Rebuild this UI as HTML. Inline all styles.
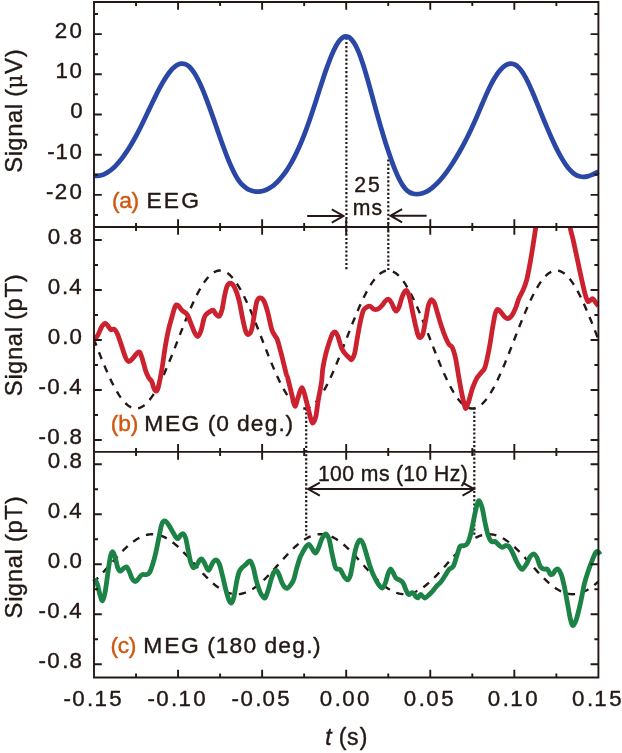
<!DOCTYPE html>
<html lang="en">
<head>
<meta charset="utf-8">
<title>EEG and MEG signals</title>
<style>
html,body{margin:0;padding:0;background:#fff;}
body{width:622px;height:753px;overflow:hidden;}
svg{display:block;}
</style>
</head>
<body>
<svg width="622" height="753" viewBox="0 0 622 753">
<defs>
<clipPath id="cb"><rect x="94" y="227" width="504.4" height="224.9"/></clipPath>
</defs>
<rect width="622" height="753" fill="#fff"/>
<path d="M94 339.5L95.05 342.21L96.1 344.91L97.15 347.61L98.2 350.29L99.25 352.96L100.31 355.61L101.36 358.23L102.41 360.82L103.46 363.38L104.51 365.91L105.56 368.39L106.61 370.83L107.66 373.21L108.71 375.55L109.76 377.83L110.81 380.06L111.86 382.22L112.92 384.31L113.97 386.34L115.02 388.29L116.07 390.17L117.12 391.97L118.17 393.69L119.22 395.32L120.27 396.87L121.32 398.33L122.37 399.7L123.42 400.98L124.47 402.16L125.52 403.25L126.58 404.24L127.63 405.12L128.68 405.91L129.73 406.59L130.78 407.17L131.83 407.65L132.88 408.02L133.93 408.29L134.98 408.45L136.03 408.5L137.08 408.45L138.13 408.29L139.19 408.02L140.24 407.65L141.29 407.17L142.34 406.59L143.39 405.91L144.44 405.12L145.49 404.24L146.54 403.25L147.59 402.16L148.64 400.98L149.69 399.7L150.75 398.33L151.8 396.87L152.85 395.32L153.9 393.69L154.95 391.97L156 390.17L157.05 388.29L158.1 386.34L159.15 384.31L160.2 382.22L161.25 380.06L162.3 377.83L163.36 375.55L164.41 373.21L165.46 370.83L166.51 368.39L167.56 365.91L168.61 363.38L169.66 360.82L170.71 358.23L171.76 355.61L172.81 352.96L173.86 350.29L174.91 347.61L175.97 344.91L177.02 342.21L178.07 339.5L179.12 336.79L180.17 334.09L181.22 331.39L182.27 328.71L183.32 326.04L184.37 323.39L185.42 320.77L186.47 318.18L187.52 315.62L188.57 313.09L189.63 310.61L190.68 308.17L191.73 305.79L192.78 303.45L193.83 301.17L194.88 298.94L195.93 296.78L196.98 294.69L198.03 292.66L199.08 290.71L200.13 288.83L201.19 287.03L202.24 285.31L203.29 283.68L204.34 282.13L205.39 280.67L206.44 279.3L207.49 278.02L208.54 276.84L209.59 275.75L210.64 274.76L211.69 273.88L212.74 273.09L213.8 272.41L214.85 271.83L215.9 271.35L216.95 270.98L218 270.71L219.05 270.55L220.1 270.5L221.15 270.55L222.2 270.71L223.25 270.98L224.3 271.35L225.35 271.83L226.41 272.41L227.46 273.09L228.51 273.88L229.56 274.76L230.61 275.75L231.66 276.84L232.71 278.02L233.76 279.3L234.81 280.67L235.86 282.13L236.91 283.68L237.96 285.31L239.02 287.03L240.07 288.83L241.12 290.71L242.17 292.66L243.22 294.69L244.27 296.78L245.32 298.94L246.37 301.17L247.42 303.45L248.47 305.79L249.52 308.17L250.57 310.61L251.62 313.09L252.68 315.62L253.73 318.18L254.78 320.77L255.83 323.39L256.88 326.04L257.93 328.71L258.98 331.39L260.03 334.09L261.08 336.79L262.13 339.5L263.18 342.21L264.24 344.91L265.29 347.61L266.34 350.29L267.39 352.96L268.44 355.61L269.49 358.23L270.54 360.82L271.59 363.38L272.64 365.91L273.69 368.39L274.74 370.83L275.79 373.21L276.85 375.55L277.9 377.83L278.95 380.06L280 382.22L281.05 384.31L282.1 386.34L283.15 388.29L284.2 390.17L285.25 391.97L286.3 393.69L287.35 395.32L288.4 396.87L289.46 398.33L290.51 399.7L291.56 400.98L292.61 402.16L293.66 403.25L294.71 404.24L295.76 405.12L296.81 405.91L297.86 406.59L298.91 407.17L299.96 407.65L301.01 408.02L302.06 408.29L303.12 408.45L304.17 408.5L305.22 408.45L306.27 408.29L307.32 408.02L308.37 407.65L309.42 407.17L310.47 406.59L311.52 405.91L312.57 405.12L313.62 404.24L314.68 403.25L315.73 402.16L316.78 400.98L317.83 399.7L318.88 398.33L319.93 396.87L320.98 395.32L322.03 393.69L323.08 391.97L324.13 390.17L325.18 388.29L326.23 386.34L327.28 384.31L328.34 382.22L329.39 380.06L330.44 377.83L331.49 375.55L332.54 373.21L333.59 370.83L334.64 368.39L335.69 365.91L336.74 363.38L337.79 360.82L338.84 358.23L339.89 355.61L340.95 352.96L342 350.29L343.05 347.61L344.1 344.91L345.15 342.21L346.2 339.5L347.25 336.79L348.3 334.09L349.35 331.39L350.4 328.71L351.45 326.04L352.5 323.39L353.56 320.77L354.61 318.18L355.66 315.62L356.71 313.09L357.76 310.61L358.81 308.17L359.86 305.79L360.91 303.45L361.96 301.17L363.01 298.94L364.06 296.78L365.12 294.69L366.17 292.66L367.22 290.71L368.27 288.83L369.32 287.03L370.37 285.31L371.42 283.68L372.47 282.13L373.52 280.67L374.57 279.3L375.62 278.02L376.67 276.84L377.73 275.75L378.78 274.76L379.83 273.88L380.88 273.09L381.93 272.41L382.98 271.83L384.03 271.35L385.08 270.98L386.13 270.71L387.18 270.55L388.23 270.5L389.28 270.55L390.33 270.71L391.39 270.98L392.44 271.35L393.49 271.83L394.54 272.41L395.59 273.09L396.64 273.88L397.69 274.76L398.74 275.75L399.79 276.84L400.84 278.02L401.89 279.3L402.94 280.67L404 282.13L405.05 283.68L406.1 285.31L407.15 287.03L408.2 288.83L409.25 290.71L410.3 292.66L411.35 294.69L412.4 296.78L413.45 298.94L414.5 301.17L415.56 303.45L416.61 305.79L417.66 308.17L418.71 310.61L419.76 313.09L420.81 315.62L421.86 318.18L422.91 320.77L423.96 323.39L425.01 326.04L426.06 328.71L427.11 331.39L428.17 334.09L429.22 336.79L430.27 339.5L431.32 342.21L432.37 344.91L433.42 347.61L434.47 350.29L435.52 352.96L436.57 355.61L437.62 358.23L438.67 360.82L439.72 363.38L440.78 365.91L441.83 368.39L442.88 370.83L443.93 373.21L444.98 375.55L446.03 377.83L447.08 380.06L448.13 382.22L449.18 384.31L450.23 386.34L451.28 388.29L452.33 390.17L453.38 391.97L454.44 393.69L455.49 395.32L456.54 396.87L457.59 398.33L458.64 399.7L459.69 400.98L460.74 402.16L461.79 403.25L462.84 404.24L463.89 405.12L464.94 405.91L466 406.59L467.05 407.17L468.1 407.65L469.15 408.02L470.2 408.29L471.25 408.45L472.3 408.5L473.35 408.45L474.4 408.29L475.45 408.02L476.5 407.65L477.55 407.17L478.61 406.59L479.66 405.91L480.71 405.12L481.76 404.24L482.81 403.25L483.86 402.16L484.91 400.98L485.96 399.7L487.01 398.33L488.06 396.87L489.11 395.32L490.16 393.69L491.22 391.97L492.27 390.17L493.32 388.29L494.37 386.34L495.42 384.31L496.47 382.22L497.52 380.06L498.57 377.83L499.62 375.55L500.67 373.21L501.72 370.83L502.77 368.39L503.82 365.91L504.88 363.38L505.93 360.82L506.98 358.23L508.03 355.61L509.08 352.96L510.13 350.29L511.18 347.61L512.23 344.91L513.28 342.21L514.33 339.5L515.38 336.79L516.43 334.09L517.49 331.39L518.54 328.71L519.59 326.04L520.64 323.39L521.69 320.77L522.74 318.18L523.79 315.62L524.84 313.09L525.89 310.61L526.94 308.17L527.99 305.79L529.04 303.45L530.1 301.17L531.15 298.94L532.2 296.78L533.25 294.69L534.3 292.66L535.35 290.71L536.4 288.83L537.45 287.03L538.5 285.31L539.55 283.68L540.6 282.13L541.65 280.67L542.71 279.3L543.76 278.02L544.81 276.84L545.86 275.75L546.91 274.76L547.96 273.88L549.01 273.09L550.06 272.41L551.11 271.83L552.16 271.35L553.21 270.98L554.26 270.71L555.32 270.55L556.37 270.5L557.42 270.55L558.47 270.71L559.52 270.98L560.57 271.35L561.62 271.83L562.67 272.41L563.72 273.09L564.77 273.88L565.82 274.76L566.88 275.75L567.93 276.84L568.98 278.02L570.03 279.3L571.08 280.67L572.13 282.13L573.18 283.68L574.23 285.31L575.28 287.03L576.33 288.83L577.38 290.71L578.43 292.66L579.49 294.69L580.54 296.78L581.59 298.94L582.64 301.17L583.69 303.45L584.74 305.79L585.79 308.17L586.84 310.61L587.89 313.09L588.94 315.62L589.99 318.18L591.04 320.77L592.1 323.39L593.15 326.04L594.2 328.71L595.25 331.39L596.3 334.09L597.35 336.79L598.4 339.5" fill="none" stroke="#231815" stroke-width="2.4" stroke-dasharray="7.3 7.1" stroke-dashoffset="0.75"/>
<path d="M94 581.53L95.05 580.55L96.1 579.55L97.15 578.53L98.2 577.48L99.25 576.42L100.31 575.33L101.36 574.23L102.41 573.11L103.46 571.98L104.51 570.84L105.56 569.68L106.61 568.52L107.66 567.35L108.71 566.18L109.76 565L110.81 563.82L111.86 562.65L112.92 561.47L113.97 560.3L115.02 559.13L116.07 557.98L117.12 556.83L118.17 555.69L119.22 554.57L120.27 553.46L121.32 552.37L122.37 551.3L123.42 550.25L124.47 549.21L125.52 548.2L126.58 547.22L127.63 546.26L128.68 545.33L129.73 544.43L130.78 543.56L131.83 542.72L132.88 541.92L133.93 541.14L134.98 540.41L136.03 539.71L137.08 539.05L138.13 538.43L139.19 537.84L140.24 537.3L141.29 536.8L142.34 536.34L143.39 535.93L144.44 535.55L145.49 535.23L146.54 534.94L147.59 534.71L148.64 534.51L149.69 534.37L150.75 534.27L151.8 534.21L152.85 534.2L153.9 534.24L154.95 534.32L156 534.45L157.05 534.63L158.1 534.85L159.15 535.12L160.2 535.43L161.25 535.79L162.3 536.19L163.36 536.63L164.41 537.12L165.46 537.64L166.51 538.21L167.56 538.82L168.61 539.47L169.66 540.15L170.71 540.88L171.76 541.63L172.81 542.43L173.86 543.26L174.91 544.11L175.97 545L177.02 545.92L178.07 546.87L179.12 547.85L180.17 548.85L181.22 549.87L182.27 550.92L183.32 551.98L184.37 553.07L185.42 554.17L186.47 555.29L187.52 556.42L188.57 557.56L189.63 558.72L190.68 559.88L191.73 561.05L192.78 562.22L193.83 563.4L194.88 564.58L195.93 565.75L196.98 566.93L198.03 568.1L199.08 569.27L200.13 570.42L201.19 571.57L202.24 572.71L203.29 573.83L204.34 574.94L205.39 576.03L206.44 577.1L207.49 578.15L208.54 579.19L209.59 580.2L210.64 581.18L211.69 582.14L212.74 583.07L213.8 583.97L214.85 584.84L215.9 585.68L216.95 586.48L218 587.26L219.05 587.99L220.1 588.69L221.15 589.35L222.2 589.97L223.25 590.56L224.3 591.1L225.35 591.6L226.41 592.06L227.46 592.47L228.51 592.85L229.56 593.17L230.61 593.46L231.66 593.69L232.71 593.89L233.76 594.03L234.81 594.13L235.86 594.19L236.91 594.2L237.96 594.16L239.02 594.08L240.07 593.95L241.12 593.77L242.17 593.55L243.22 593.28L244.27 592.97L245.32 592.61L246.37 592.21L247.42 591.77L248.47 591.28L249.52 590.76L250.57 590.19L251.62 589.58L252.68 588.93L253.73 588.25L254.78 587.52L255.83 586.77L256.88 585.97L257.93 585.14L258.98 584.29L260.03 583.4L261.08 582.48L262.13 581.53L263.18 580.55L264.24 579.55L265.29 578.53L266.34 577.48L267.39 576.42L268.44 575.33L269.49 574.23L270.54 573.11L271.59 571.98L272.64 570.84L273.69 569.68L274.74 568.52L275.79 567.35L276.85 566.18L277.9 565L278.95 563.82L280 562.65L281.05 561.47L282.1 560.3L283.15 559.13L284.2 557.98L285.25 556.83L286.3 555.69L287.35 554.57L288.4 553.46L289.46 552.37L290.51 551.3L291.56 550.25L292.61 549.21L293.66 548.2L294.71 547.22L295.76 546.26L296.81 545.33L297.86 544.43L298.91 543.56L299.96 542.72L301.01 541.92L302.06 541.14L303.12 540.41L304.17 539.71L305.22 539.05L306.27 538.43L307.32 537.84L308.37 537.3L309.42 536.8L310.47 536.34L311.52 535.93L312.57 535.55L313.62 535.23L314.68 534.94L315.73 534.71L316.78 534.51L317.83 534.37L318.88 534.27L319.93 534.21L320.98 534.2L322.03 534.24L323.08 534.32L324.13 534.45L325.18 534.63L326.23 534.85L327.28 535.12L328.34 535.43L329.39 535.79L330.44 536.19L331.49 536.63L332.54 537.12L333.59 537.64L334.64 538.21L335.69 538.82L336.74 539.47L337.79 540.15L338.84 540.88L339.89 541.63L340.95 542.43L342 543.26L343.05 544.11L344.1 545L345.15 545.92L346.2 546.87L347.25 547.85L348.3 548.85L349.35 549.87L350.4 550.92L351.45 551.98L352.5 553.07L353.56 554.17L354.61 555.29L355.66 556.42L356.71 557.56L357.76 558.72L358.81 559.88L359.86 561.05L360.91 562.22L361.96 563.4L363.01 564.58L364.06 565.75L365.12 566.93L366.17 568.1L367.22 569.27L368.27 570.42L369.32 571.57L370.37 572.71L371.42 573.83L372.47 574.94L373.52 576.03L374.57 577.1L375.62 578.15L376.67 579.19L377.73 580.2L378.78 581.18L379.83 582.14L380.88 583.07L381.93 583.97L382.98 584.84L384.03 585.68L385.08 586.48L386.13 587.26L387.18 587.99L388.23 588.69L389.28 589.35L390.33 589.97L391.39 590.56L392.44 591.1L393.49 591.6L394.54 592.06L395.59 592.47L396.64 592.85L397.69 593.17L398.74 593.46L399.79 593.69L400.84 593.89L401.89 594.03L402.94 594.13L404 594.19L405.05 594.2L406.1 594.16L407.15 594.08L408.2 593.95L409.25 593.77L410.3 593.55L411.35 593.28L412.4 592.97L413.45 592.61L414.5 592.21L415.56 591.77L416.61 591.28L417.66 590.76L418.71 590.19L419.76 589.58L420.81 588.93L421.86 588.25L422.91 587.52L423.96 586.77L425.01 585.97L426.06 585.14L427.11 584.29L428.17 583.4L429.22 582.48L430.27 581.53L431.32 580.55L432.37 579.55L433.42 578.53L434.47 577.48L435.52 576.42L436.57 575.33L437.62 574.23L438.67 573.11L439.72 571.98L440.78 570.84L441.83 569.68L442.88 568.52L443.93 567.35L444.98 566.18L446.03 565L447.08 563.82L448.13 562.65L449.18 561.47L450.23 560.3L451.28 559.13L452.33 557.98L453.38 556.83L454.44 555.69L455.49 554.57L456.54 553.46L457.59 552.37L458.64 551.3L459.69 550.25L460.74 549.21L461.79 548.2L462.84 547.22L463.89 546.26L464.94 545.33L466 544.43L467.05 543.56L468.1 542.72L469.15 541.92L470.2 541.14L471.25 540.41L472.3 539.71L473.35 539.05L474.4 538.43L475.45 537.84L476.5 537.3L477.55 536.8L478.61 536.34L479.66 535.93L480.71 535.55L481.76 535.23L482.81 534.94L483.86 534.71L484.91 534.51L485.96 534.37L487.01 534.27L488.06 534.21L489.11 534.2L490.16 534.24L491.22 534.32L492.27 534.45L493.32 534.63L494.37 534.85L495.42 535.12L496.47 535.43L497.52 535.79L498.57 536.19L499.62 536.63L500.67 537.12L501.72 537.64L502.77 538.21L503.82 538.82L504.88 539.47L505.93 540.15L506.98 540.88L508.03 541.63L509.08 542.43L510.13 543.26L511.18 544.11L512.23 545L513.28 545.92L514.33 546.87L515.38 547.85L516.43 548.85L517.49 549.87L518.54 550.92L519.59 551.98L520.64 553.07L521.69 554.17L522.74 555.29L523.79 556.42L524.84 557.56L525.89 558.72L526.94 559.88L527.99 561.05L529.04 562.22L530.1 563.4L531.15 564.58L532.2 565.75L533.25 566.93L534.3 568.1L535.35 569.27L536.4 570.42L537.45 571.57L538.5 572.71L539.55 573.83L540.6 574.94L541.65 576.03L542.71 577.1L543.76 578.15L544.81 579.19L545.86 580.2L546.91 581.18L547.96 582.14L549.01 583.07L550.06 583.97L551.11 584.84L552.16 585.68L553.21 586.48L554.26 587.26L555.32 587.99L556.37 588.69L557.42 589.35L558.47 589.97L559.52 590.56L560.57 591.1L561.62 591.6L562.67 592.06L563.72 592.47L564.77 592.85L565.82 593.17L566.88 593.46L567.93 593.69L568.98 593.89L570.03 594.03L571.08 594.13L572.13 594.19L573.18 594.2L574.23 594.16L575.28 594.08L576.33 593.95L577.38 593.77L578.43 593.55L579.49 593.28L580.54 592.97L581.59 592.61L582.64 592.21L583.69 591.77L584.74 591.28L585.79 590.76L586.84 590.19L587.89 589.58L588.94 588.93L589.99 588.25L591.04 587.52L592.1 586.77L593.15 585.97L594.2 585.14L595.25 584.29L596.3 583.4L597.35 582.48L598.4 581.53" fill="none" stroke="#231815" stroke-width="2.4" stroke-dasharray="7.3 7.1" stroke-dashoffset="1.62"/>
<path d="M346.4 269.2V38" fill="none" stroke="#231815" stroke-width="2.2" stroke-dasharray="2.1 2.07"/>
<path d="M388.3 270V159" fill="none" stroke="#231815" stroke-width="2.2" stroke-dasharray="2.1 2.07"/>
<path d="M306.2 535.5V408.4" fill="none" stroke="#231815" stroke-width="2.2" stroke-dasharray="2.1 2.07"/>
<path d="M474.3 534.7V409" fill="none" stroke="#231815" stroke-width="2.2" stroke-dasharray="2.1 2.07"/>
<path d="M94 175.73C94.6 175.76 96.42 175.96 97.63 175.88C98.84 175.8 100.05 175.58 101.26 175.24C102.47 174.91 103.68 174.44 104.89 173.86C106.1 173.29 107.31 172.58 108.52 171.77C109.72 170.96 110.93 170.03 112.14 168.99C113.35 167.96 114.56 166.81 115.77 165.56C116.98 164.32 118.19 162.96 119.4 161.51C120.61 160.07 121.82 158.52 123.03 156.88C124.24 155.24 125.45 153.5 126.66 151.68C127.87 149.87 129.08 147.95 130.29 145.97C131.5 143.98 132.71 141.9 133.92 139.76C135.13 137.61 136.34 135.38 137.55 133.08C138.75 130.79 139.96 128.41 141.17 125.98C142.38 123.56 143.59 121.05 144.8 118.53C146.01 116.02 147.22 113.45 148.43 110.9C149.64 108.36 150.85 105.79 152.06 103.27C153.27 100.76 154.48 98.24 155.69 95.82C156.9 93.39 158.11 91 159.32 88.72C160.53 86.45 161.74 84.23 162.95 82.16C164.16 80.09 165.37 78.11 166.58 76.31C167.79 74.51 168.99 72.83 170.2 71.36C171.41 69.89 172.62 68.56 173.83 67.48C175.04 66.39 176.25 65.48 177.46 64.84C178.67 64.2 179.88 63.76 181.09 63.61C182.3 63.46 183.51 63.54 184.72 63.92C185.93 64.3 187.14 64.94 188.35 65.89C189.56 66.85 190.77 68.12 191.98 69.66C193.19 71.2 194.4 73.06 195.61 75.13C196.82 77.19 198.02 79.54 199.23 82.06C200.44 84.57 201.65 87.32 202.86 90.19C204.07 93.07 205.28 96.14 206.49 99.3C207.7 102.45 208.91 105.77 210.12 109.12C211.33 112.47 212.54 115.94 213.75 119.4C214.96 122.85 216.17 126.39 217.38 129.86C218.59 133.33 219.8 136.83 221.01 140.23C222.22 143.63 223.43 147.01 224.64 150.24C225.85 153.46 227.06 156.63 228.26 159.6C229.47 162.57 230.68 165.43 231.89 168.05C233.1 170.67 234.31 173.13 235.52 175.3C236.73 177.48 237.94 179.43 239.15 181.1C240.36 182.76 241.57 184.11 242.78 185.29C243.99 186.47 245.2 187.37 246.41 188.18C247.62 188.98 248.83 189.6 250.04 190.11C251.25 190.62 252.46 190.99 253.67 191.25C254.88 191.5 256.09 191.62 257.29 191.65C258.5 191.67 259.71 191.57 260.92 191.37C262.13 191.17 263.34 190.86 264.55 190.44C265.76 190.02 266.97 189.49 268.18 188.85C269.39 188.21 270.6 187.46 271.81 186.6C273.02 185.74 274.23 184.77 275.44 183.68C276.65 182.6 277.86 181.41 279.07 180.1C280.28 178.79 281.49 177.38 282.7 175.84C283.91 174.3 285.12 172.64 286.33 170.86C287.53 169.08 288.74 167.18 289.95 165.14C291.16 163.1 292.37 160.94 293.58 158.64C294.79 156.34 296 153.91 297.21 151.33C298.42 148.76 299.63 146.04 300.84 143.18C302.05 140.32 303.26 137.31 304.47 134.16C305.68 131.01 306.89 127.69 308.1 124.28C309.31 120.87 310.52 117.32 311.73 113.72C312.94 110.11 314.15 106.39 315.36 102.67C316.56 98.94 317.77 95.12 318.98 91.36C320.19 87.61 321.4 83.8 322.61 80.14C323.82 76.48 325.03 72.83 326.24 69.4C327.45 65.96 328.66 62.6 329.87 59.52C331.08 56.44 332.29 53.51 333.5 50.92C334.71 48.32 335.92 45.94 337.13 43.97C338.34 41.99 339.55 40.3 340.76 39.07C341.97 37.85 343.18 37 344.39 36.62C345.6 36.24 346.8 36.31 348.01 36.8C349.22 37.29 350.43 38.23 351.64 39.58C352.85 40.93 354.06 42.71 355.27 44.89C356.48 47.08 357.69 49.72 358.9 52.7C360.11 55.68 361.32 59.12 362.53 62.76C363.74 66.39 364.95 70.41 366.16 74.5C367.37 78.6 368.58 82.97 369.79 87.33C371 91.69 372.21 96.23 373.42 100.65C374.63 105.07 375.84 109.54 377.04 113.86C378.25 118.19 379.46 122.45 380.67 126.6C381.88 130.74 383.09 134.8 384.3 138.72C385.51 142.63 386.72 146.45 387.93 150.11C389.14 153.76 390.35 157.3 391.56 160.64C392.77 163.98 393.98 167.19 395.19 170.14C396.4 173.08 397.61 175.85 398.82 178.31C400.03 180.77 401.24 183 402.45 184.88C403.66 186.75 404.87 188.31 406.07 189.56C407.28 190.81 408.49 191.68 409.7 192.39C410.91 193.09 412.12 193.48 413.33 193.78C414.54 194.07 415.75 194.16 416.96 194.16C418.17 194.16 419.38 194.02 420.59 193.77C421.8 193.51 423.01 193.13 424.22 192.64C425.43 192.15 426.64 191.54 427.85 190.83C429.06 190.11 430.27 189.28 431.48 188.36C432.69 187.44 433.9 186.41 435.11 185.29C436.31 184.17 437.52 182.95 438.73 181.65C439.94 180.35 441.15 178.95 442.36 177.48C443.57 176.01 444.78 174.45 445.99 172.83C447.2 171.2 448.41 169.5 449.62 167.73C450.83 165.97 452.04 164.13 453.25 162.23C454.46 160.33 455.67 158.36 456.88 156.32C458.09 154.29 459.3 152.19 460.51 150.02C461.72 147.85 462.93 145.62 464.14 143.31C465.34 141.01 466.55 138.64 467.76 136.2C468.97 133.76 470.18 131.25 471.39 128.67C472.6 126.1 473.81 123.45 475.02 120.74C476.23 118.02 477.44 115.21 478.65 112.39C479.86 109.57 481.07 106.64 482.28 103.8C483.49 100.96 484.7 98.08 485.91 95.36C487.12 92.64 488.33 89.96 489.54 87.48C490.75 85 491.96 82.65 493.17 80.5C494.38 78.35 495.58 76.35 496.79 74.57C498 72.78 499.21 71.18 500.42 69.8C501.63 68.42 502.84 67.24 504.05 66.3C505.26 65.37 506.47 64.65 507.68 64.2C508.89 63.75 510.1 63.53 511.31 63.6C512.52 63.68 513.73 64 514.94 64.63C516.15 65.26 517.36 66.18 518.57 67.39C519.78 68.59 520.99 70.1 522.2 71.84C523.41 73.59 524.61 75.63 525.82 77.85C527.03 80.08 528.24 82.6 529.45 85.21C530.66 87.82 531.87 90.66 533.08 93.51C534.29 96.37 535.5 99.36 536.71 102.33C537.92 105.29 539.13 108.33 540.34 111.31C541.55 114.29 542.76 117.28 543.97 120.22C545.18 123.15 546.39 126.06 547.6 128.9C548.81 131.74 550.02 134.54 551.23 137.24C552.44 139.94 553.65 142.58 554.85 145.1C556.06 147.62 557.27 150.06 558.48 152.36C559.69 154.65 560.9 156.85 562.11 158.89C563.32 160.93 564.53 162.84 565.74 164.57C566.95 166.3 568.16 167.89 569.37 169.27C570.58 170.66 571.79 171.88 573 172.87C574.21 173.87 575.42 174.66 576.63 175.27C577.84 175.87 579.05 176.27 580.26 176.52C581.47 176.78 582.68 176.85 583.88 176.81C585.09 176.77 586.3 176.57 587.51 176.29C588.72 176.01 589.93 175.59 591.14 175.12C592.35 174.66 593.56 174.08 594.77 173.49C595.98 172.89 597.8 171.86 598.4 171.53" fill="none" stroke-linejoin="round" stroke-linecap="butt" stroke="#2a47a6" stroke-width="4.8"/>
<g clip-path="url(#cb)"><path d="M93.4 340.6C94.1 339.77 96.2 337.93 97.6 335.6C99 333.27 100.48 328.63 101.8 326.6C103.12 324.57 104.33 323.32 105.5 323.4C106.67 323.48 107.9 326.03 108.8 327.1C109.7 328.17 110.03 329.45 110.9 329.8C111.77 330.15 112.95 328.6 114 329.2C115.05 329.8 115.98 330.78 117.2 333.4C118.42 336.02 119.92 340.9 121.3 344.9C122.68 348.9 124.27 354.62 125.5 357.4C126.73 360.18 127.48 361.43 128.7 361.6C129.92 361.77 131.42 359.8 132.8 358.4C134.18 357 135.85 354.23 137 353.2C138.15 352.17 138.83 351.33 139.7 352.2C140.57 353.07 141.25 355.45 142.2 358.4C143.15 361.35 144.35 366.75 145.4 369.9C146.45 373.05 147.45 375.38 148.5 377.3C149.55 379.22 150.87 379.75 151.7 381.4C152.53 383.05 152.92 385.67 153.5 387.2C154.08 388.73 154.63 390.03 155.2 390.6C155.77 391.17 156.32 391.43 156.9 390.6C157.48 389.77 157.83 389.38 158.7 385.6C159.57 381.82 161.02 374.33 162.1 367.9C163.18 361.47 164.15 353.28 165.2 347C166.25 340.72 167.17 335.6 168.4 330.2C169.63 324.8 171.45 318.6 172.6 314.6C173.75 310.6 174.43 307.77 175.3 306.2C176.17 304.63 176.68 304.5 177.8 305.2C178.92 305.9 180.43 308.83 182 310.4C183.57 311.97 185.82 312.68 187.2 314.6C188.58 316.52 189.08 318.95 190.3 321.9C191.52 324.85 193.28 329.87 194.5 332.3C195.72 334.73 196.55 336.67 197.6 336.5C198.65 336.33 199.75 334.27 200.8 331.3C201.85 328.33 203.03 321.48 203.9 318.7C204.77 315.92 204.95 315.82 206 314.6C207.05 313.38 209.02 312.13 210.2 311.4C211.38 310.67 212.08 309.67 213.1 310.2C214.12 310.73 215.25 313.63 216.3 314.6C217.35 315.57 218.43 316.88 219.4 316C220.37 315.12 221.23 312.67 222.1 309.3C222.97 305.93 223.77 299.63 224.6 295.8C225.43 291.97 226.15 288.4 227.1 286.3C228.05 284.2 229.07 283.02 230.3 283.2C231.53 283.38 233.07 284.62 234.5 287.4C235.93 290.18 237.5 294.5 238.9 299.9C240.3 305.3 241.73 314.47 242.9 319.8C244.07 325.13 244.93 329.47 245.9 331.9C246.87 334.33 247.72 334.85 248.7 334.4C249.68 333.95 250.83 332.68 251.8 329.2C252.77 325.72 253.63 318.2 254.5 313.5C255.37 308.8 256.05 303.62 257 301C257.95 298.38 259.05 297.8 260.2 297.8C261.35 297.8 262.68 298.73 263.9 301C265.12 303.27 266.2 306.7 267.5 311.4C268.8 316.1 270.48 325.18 271.7 329.2C272.92 333.22 273.87 333.77 274.8 335.5C275.73 337.23 276.25 336.65 277.3 339.6C278.35 342.55 279.6 347.45 281.1 353.2C282.6 358.95 285.2 369.97 286.3 374.1C287.4 378.23 286.8 374.67 287.7 378C288.6 381.33 290.5 389.4 291.7 394.1C292.9 398.8 293.83 405.67 294.9 406.2C295.97 406.73 296.88 400.38 298.1 397.3C299.32 394.22 300.85 387.17 302.2 387.7C303.55 388.23 304.87 395.68 306.2 400.5C307.53 405.32 309.13 412.83 310.2 416.6C311.27 420.37 311.67 423.1 312.6 423.1C313.53 423.1 314.87 420.37 315.8 416.6C316.73 412.83 317.27 406.12 318.2 400.5C319.13 394.88 320.62 388.33 321.4 382.9C322.18 377.47 322.13 372.85 322.9 367.9C323.67 362.95 324.78 357.92 326 353.2C327.22 348.48 329.08 342.9 330.2 339.6C331.32 336.3 331.85 334.65 332.7 333.4C333.55 332.15 334.4 331.52 335.3 332.1C336.2 332.68 337.07 334.25 338.1 336.9C339.13 339.55 340.23 345.1 341.5 348C342.77 350.9 344.3 352.57 345.7 354.3C347.1 356.03 348.87 357.53 349.9 358.4C350.93 359.27 351.1 360.37 351.9 359.5C352.7 358.63 353.82 356.68 354.7 353.2C355.58 349.72 356.27 343.82 357.2 338.6C358.13 333.38 359.27 326.6 360.3 321.9C361.33 317.2 362.35 312.85 363.4 310.4C364.45 307.95 365.48 307.9 366.6 307.2C367.72 306.5 368.88 305.85 370.1 306.2C371.32 306.55 372.57 308.85 373.9 309.3C375.23 309.75 376.72 309.58 378.1 308.9C379.48 308.22 380.98 306.52 382.2 305.2C383.42 303.88 384.35 301.98 385.4 301C386.45 300.02 387.45 298.95 388.5 299.3C389.55 299.65 390.72 301.43 391.7 303.1C392.68 304.77 393.6 307.98 394.4 309.3C395.2 310.62 395.73 311.35 396.5 311C397.27 310.65 398.07 309.57 399 307.2C399.93 304.83 401.13 299.4 402.1 296.8C403.07 294.2 404 292.58 404.8 291.6C405.6 290.62 406.13 290.03 406.9 290.9C407.67 291.77 408.47 293.38 409.4 296.8C410.33 300.22 411.45 306.52 412.5 311.4C413.55 316.28 414.75 322.08 415.7 326.1C416.65 330.12 417.4 333.6 418.2 335.5C419 337.4 419.7 337.85 420.5 337.5C421.3 337.15 422.13 336.35 423 333.4C423.87 330.45 424.83 324.33 425.7 319.8C426.57 315.27 427.43 309.33 428.2 306.2C428.97 303.07 429.67 302.05 430.3 301C430.93 299.95 431.3 299.55 432 299.9C432.7 300.25 433.57 300.83 434.5 303.1C435.43 305.37 436.48 309.77 437.6 313.5C438.72 317.23 439.93 321.65 441.2 325.5C442.47 329.35 443.92 333.48 445.2 336.6C446.48 339.72 447.72 342.38 448.9 344.2C450.08 346.02 451.18 345.13 452.3 347.5C453.42 349.87 454.55 353.65 455.6 358.4C456.65 363.15 457.62 370.4 458.6 376C459.58 381.6 460.67 387.73 461.5 392C462.33 396.27 462.92 398.85 463.6 401.6C464.28 404.35 464.83 408.27 465.6 408.5C466.37 408.73 467.38 405.25 468.2 403C469.02 400.75 469.73 397.6 470.5 395C471.27 392.4 471.78 390.13 472.8 387.4C473.82 384.67 475.23 381.03 476.6 378.6C477.97 376.17 479.58 374.75 481 372.8C482.42 370.85 483.72 371.05 485.1 366.9C486.48 362.75 488 354.73 489.3 347.9C490.6 341.07 491.87 331.75 492.9 325.9C493.93 320.05 494.67 315.57 495.5 312.8C496.33 310.03 496.92 309.3 497.9 309.3C498.88 309.3 500.22 311.48 501.4 312.8C502.58 314.12 503.92 316.23 505 317.2C506.08 318.17 506.78 318.85 507.9 318.6C509.02 318.35 510.43 317.4 511.7 315.7C512.97 314 514.28 311.32 515.5 308.4C516.72 305.48 517.68 301.37 519 298.2C520.32 295.03 522.08 292.58 523.4 289.4C524.72 286.22 525.78 283.5 526.9 279.1C528.02 274.7 529.08 268.6 530.1 263C531.12 257.4 532.07 251.35 533 245.5C533.93 239.65 534.78 234.15 535.7 227.9C536.62 221.65 536.95 215.15 538.5 208C540.05 200.85 542.58 190 545 185C547.42 180 550.33 178 553 178C555.67 178 558.62 180 561 185C563.38 190 565.77 200.85 567.3 208C568.83 215.15 569.23 222.63 570.2 227.9C571.17 233.17 571.88 234.23 573.1 239.6C574.32 244.97 576.03 253.27 577.5 260.1C578.97 266.93 580.58 274.75 581.9 280.6C583.22 286.45 584.42 291.75 585.4 295.2C586.38 298.65 587.02 300.42 587.8 301.3C588.58 302.18 589.28 300.93 590.1 300.5C590.92 300.07 591.77 298.37 592.7 298.7C593.63 299.03 594.75 301.28 595.7 302.5C596.65 303.72 597.95 305.42 598.4 306" fill="none" stroke-linejoin="round" stroke-linecap="butt" stroke="#cc2230" stroke-width="4.8"/></g>
<path d="M94.4 578.8C94.88 579.67 96.37 581.3 97.3 584C98.23 586.7 99.13 592.22 100 595C100.87 597.78 101.67 601.07 102.5 600.7C103.33 600.33 104.12 597.32 105 592.8C105.88 588.28 106.92 579.58 107.8 573.6C108.68 567.62 109.5 560.55 110.3 556.9C111.1 553.25 111.8 551.7 112.6 551.7C113.4 551.7 114.27 554.3 115.1 556.9C115.93 559.5 116.73 564.93 117.6 567.3C118.47 569.67 119.33 570.92 120.3 571.1C121.27 571.28 122.35 569.1 123.4 568.4C124.45 567.7 125.62 566.38 126.6 566.9C127.58 567.42 128.37 569.52 129.3 571.5C130.23 573.48 131.15 577.13 132.2 578.8C133.25 580.47 134.45 581.67 135.6 581.5C136.75 581.33 138 578.95 139.1 577.8C140.2 576.65 140.98 575.13 142.2 574.6C143.42 574.07 145.17 574.95 146.4 574.6C147.63 574.25 148.55 574.23 149.6 572.5C150.65 570.77 151.67 567.5 152.7 564.2C153.73 560.9 154.75 557.23 155.8 552.7C156.85 548.17 158.02 541.7 159 537C159.98 532.3 160.77 527.18 161.7 524.5C162.63 521.82 163.6 521.08 164.6 520.9C165.6 520.72 166.55 521.93 167.7 523.4C168.85 524.87 170.17 527.43 171.5 529.7C172.83 531.97 174.58 535.53 175.7 537C176.82 538.47 177.33 538.85 178.2 538.5C179.07 538.15 180.03 535.67 180.9 534.9C181.77 534.13 182.6 533.37 183.4 533.9C184.2 534.43 184.9 535.32 185.7 538.1C186.5 540.88 187.37 546.6 188.2 550.6C189.03 554.6 189.83 559.25 190.7 562.1C191.57 564.95 192.42 567.18 193.4 567.7C194.38 568.22 195.55 566.48 196.6 565.2C197.65 563.92 198.83 561.03 199.7 560C200.57 558.97 201 558.48 201.8 559C202.6 559.52 203.63 561.53 204.5 563.1C205.37 564.67 206.23 567.28 207 568.4C207.77 569.52 208.08 570.85 209.1 569.8C210.12 568.75 211.9 563.73 213.1 562.1C214.3 560.47 215.25 559.65 216.3 560C217.35 560.35 218.37 561.58 219.4 564.2C220.43 566.82 221.45 571.52 222.5 575.7C223.55 579.88 224.65 585.3 225.7 589.3C226.75 593.3 227.83 597.43 228.8 599.7C229.77 601.97 230.63 603.42 231.5 602.9C232.37 602.38 233.12 600.27 234 596.6C234.88 592.93 235.92 585.08 236.8 580.9C237.68 576.72 238.37 573.77 239.3 571.5C240.23 569.23 241.37 568.42 242.4 567.3C243.43 566.18 244.45 565.77 245.5 564.8C246.55 563.83 247.82 562.05 248.7 561.5C249.58 560.95 250 560.35 250.8 561.5C251.6 562.65 252.57 565.17 253.5 568.4C254.43 571.63 255.28 576.9 256.4 580.9C257.52 584.9 259.05 589.72 260.2 592.4C261.35 595.08 262.43 596.13 263.3 597C264.17 597.87 264.6 598.72 265.4 597.6C266.2 596.48 267.17 593.25 268.1 590.3C269.03 587.35 270.07 582.87 271 579.9C271.93 576.93 272.78 574.07 273.7 572.5C274.62 570.93 275.62 570.15 276.5 570.5C277.38 570.85 278.07 572.52 279 574.6C279.93 576.68 281.13 580.9 282.1 583C283.07 585.1 283.93 586.33 284.8 587.2C285.67 588.07 286.35 588.55 287.3 588.2C288.25 587.85 289.45 586.48 290.5 585.1C291.55 583.72 292.57 582.68 293.6 579.9C294.63 577.12 295.65 572.07 296.7 568.4C297.75 564.73 298.85 560.68 299.9 557.9C300.95 555.12 301.97 553.62 303 551.7C304.03 549.78 305.13 547.63 306.1 546.4C307.07 545.17 307.92 544.12 308.8 544.3C309.68 544.48 310.55 546.27 311.4 547.5C312.25 548.73 313.13 550.83 313.9 551.7C314.67 552.57 315.2 553.4 316 552.7C316.8 552 317.73 549.77 318.7 547.5C319.67 545.23 320.83 541.2 321.8 539.1C322.77 537 323.73 535.7 324.5 534.9C325.27 534.1 325.63 533.6 326.4 534.3C327.17 535 328.12 535.68 329.1 539.1C330.08 542.52 331.32 550.27 332.3 554.8C333.28 559.33 334.27 563.93 335 566.3C335.73 568.67 335.87 568.48 336.7 569C337.53 569.52 339.03 568.63 340 569.4C340.97 570.17 341.67 572.2 342.5 573.6C343.33 575 344.12 576.75 345 577.8C345.88 578.85 346.92 580.25 347.8 579.9C348.68 579.55 349.43 578.67 350.3 575.7C351.17 572.73 352.13 566.45 353 562.1C353.87 557.75 354.63 552.98 355.5 549.6C356.37 546.22 357.33 543.37 358.2 541.8C359.07 540.23 359.83 539.78 360.7 540.2C361.57 540.62 362.42 541.87 363.4 544.3C364.38 546.73 365.55 551.32 366.6 554.8C367.65 558.28 368.67 562.07 369.7 565.2C370.73 568.33 371.58 570.8 372.8 573.6C374.02 576.4 375.77 579.83 377 582C378.23 584.17 379.25 585.63 380.2 586.6C381.15 587.57 381.83 588.4 382.7 587.8C383.57 587.2 384.5 585.37 385.4 583C386.3 580.63 387.23 575.93 388.1 573.6C388.97 571.27 389.77 569.18 390.6 569C391.43 568.82 392.23 571.03 393.1 572.5C393.97 573.97 394.65 576.5 395.8 577.8C396.95 579.1 398.78 579.43 400 580.3C401.22 581.17 402.15 581.5 403.1 583C404.05 584.5 404.82 587.38 405.7 589.3C406.58 591.22 407.43 593.92 408.4 594.5C409.37 595.08 410.63 592.98 411.5 592.8C412.37 592.62 412.83 592.7 413.6 593.4C414.37 594.1 415.33 596.3 416.1 597C416.87 597.7 417.47 598.02 418.2 597.6C418.93 597.18 419.7 594.67 420.5 594.5C421.3 594.33 422.23 596.02 423 596.6C423.77 597.18 424.23 598.18 425.1 598C425.97 597.82 426.98 596.6 428.2 595.5C429.42 594.4 431 592.97 432.4 591.4C433.8 589.83 435.2 587.67 436.6 586.1C438 584.53 439.4 583.73 440.8 582C442.2 580.27 443.62 577.8 445 575.7C446.38 573.6 447.72 570.97 449.1 569.4C450.48 567.83 451.98 568.65 453.3 566.3C454.62 563.95 455.88 558.6 457 555.3C458.12 552 458.87 548.1 460 546.5C461.13 544.9 462.62 546.12 463.8 545.7C464.98 545.28 466.05 545.53 467.1 544C468.15 542.47 469.1 540.05 470.1 536.5C471.1 532.95 472.07 527.52 473.1 522.7C474.13 517.88 475.3 511.28 476.3 507.6C477.3 503.92 478.13 500.6 479.1 500.6C480.07 500.6 481.1 503.92 482.1 507.6C483.1 511.28 484.1 518.1 485.1 522.7C486.1 527.3 487.05 532.07 488.1 535.2C489.15 538.33 490.23 540.45 491.4 541.5C492.57 542.55 493.85 540.88 495.1 541.5C496.35 542.12 497.72 544.23 498.9 545.2C500.08 546.17 501.07 547.22 502.2 547.3C503.33 547.38 504.58 545.83 505.7 545.7C506.82 545.57 507.73 545.32 508.9 546.5C510.07 547.68 511.43 550.3 512.7 552.8C513.97 555.3 515.25 559 516.5 561.5C517.75 564 519.17 566.53 520.2 567.8C521.23 569.07 521.65 569.72 522.7 569.1C523.75 568.48 525.23 566.2 526.5 564.1C527.77 562 529.05 558.18 530.3 556.5C531.55 554.82 532.88 553.78 534 554C535.12 554.22 535.95 555.7 537 557.8C538.05 559.9 539.12 564.72 540.3 566.6C541.48 568.48 542.93 568.68 544.1 569.1C545.27 569.52 546.27 568.27 547.3 569.1C548.33 569.93 549.38 573.27 550.3 574.1C551.22 574.93 551.97 574.73 552.8 574.1C553.63 573.47 554.45 571.13 555.3 570.3C556.15 569.47 556.93 568.47 557.9 569.1C558.87 569.73 560.07 571.38 561.1 574.1C562.13 576.82 563.05 580.6 564.1 585.4C565.15 590.2 566.35 597.27 567.4 602.9C568.45 608.53 569.45 615.43 570.4 619.2C571.35 622.97 572.1 625.5 573.1 625.5C574.1 625.5 575.17 622.97 576.4 619.2C577.63 615.43 579.13 608.95 580.5 602.9C581.87 596.85 583.27 588.33 584.6 582.9C585.93 577.47 587.23 574.07 588.5 570.3C589.77 566.53 590.98 563.28 592.2 560.3C593.42 557.32 594.8 553.82 595.8 552.4C596.8 550.98 597.43 551.43 598.2 551.8C598.97 552.17 600.03 554.13 600.4 554.6" fill="none" stroke-linejoin="round" stroke-linecap="butt" stroke="#1d8246" stroke-width="4.8"/>
<path d="M94 1.95H598.4V677.5H94ZM94 227H598.4M94 451.9H598.4M136.03 1.95v4M136.03 223v8M136.03 447.9v8M136.03 677.5v-4M178.07 1.95v7.8M178.07 219.2v15.6M178.07 444.1v15.6M178.07 677.5v-7.8M220.1 1.95v4M220.1 223v8M220.1 447.9v8M220.1 677.5v-4M262.13 1.95v7.8M262.13 219.2v15.6M262.13 444.1v15.6M262.13 677.5v-7.8M304.17 1.95v4M304.17 223v8M304.17 447.9v8M304.17 677.5v-4M346.2 1.95v7.8M346.2 219.2v15.6M346.2 444.1v15.6M346.2 677.5v-7.8M388.23 1.95v4M388.23 223v8M388.23 447.9v8M388.23 677.5v-4M430.27 1.95v7.8M430.27 219.2v15.6M430.27 444.1v15.6M430.27 677.5v-7.8M472.3 1.95v4M472.3 223v8M472.3 447.9v8M472.3 677.5v-4M514.33 1.95v7.8M514.33 219.2v15.6M514.33 444.1v15.6M514.33 677.5v-7.8M556.37 1.95v4M556.37 223v8M556.37 447.9v8M556.37 677.5v-4M94 34.1h7.8M598.4 34.1h-7.8M94 74.3h7.8M598.4 74.3h-7.8M94 114.5h7.8M598.4 114.5h-7.8M94 154.7h7.8M598.4 154.7h-7.8M94 194.9h7.8M598.4 194.9h-7.8M94 14h4M598.4 14h-4M94 54.2h4M598.4 54.2h-4M94 94.4h4M598.4 94.4h-4M94 134.6h4M598.4 134.6h-4M94 174.8h4M598.4 174.8h-4M94 215h4M598.4 215h-4M94 240h7.8M598.4 240h-7.8M94 290h7.8M598.4 290h-7.8M94 340h7.8M598.4 340h-7.8M94 390h7.8M598.4 390h-7.8M94 440h7.8M598.4 440h-7.8M94 265h4M598.4 265h-4M94 315h4M598.4 315h-4M94 365h4M598.4 365h-4M94 415h4M598.4 415h-4M94 464.3h7.8M598.4 464.3h-7.8M94 514.3h7.8M598.4 514.3h-7.8M94 564.3h7.8M598.4 564.3h-7.8M94 614.3h7.8M598.4 614.3h-7.8M94 664.3h7.8M598.4 664.3h-7.8M94 489.3h4M598.4 489.3h-4M94 539.3h4M598.4 539.3h-4M94 589.3h4M598.4 589.3h-4M94 639.3h4M598.4 639.3h-4" fill="none" stroke="#231815" stroke-width="1.9" stroke-linecap="butt" stroke-linejoin="miter"/>
<path d="M307.2 216H342.9M331.8 209.35L343.4 216L331.8 222.65" fill="none" stroke="#231815" stroke-width="2" stroke-linejoin="miter" stroke-linecap="butt"/>
<path d="M426.6 215.7H391M402.1 209.05L390.5 215.7L402.1 222.35" fill="none" stroke="#231815" stroke-width="2" stroke-linejoin="miter" stroke-linecap="butt"/>
<path d="M308.6 489.1H473.7M319.8 482.6L308.2 489.1L319.8 495.6M462.5 482.6L474.1 489.1L462.5 495.6" fill="none" stroke="#231815" stroke-width="2" stroke-linejoin="miter" stroke-linecap="butt"/>
<g font-family="'Liberation Sans', Arial, Helvetica, sans-serif" fill="#231815" stroke="#231815" stroke-width="0.4" stroke-linejoin="round">
<text x="63.41 72.25 87 94.38 109.13" y="706.2" font-size="22.3">-0.15</text>
<text x="147.48 156.3 171.04 178.4 193.14" y="706.2" font-size="22.3">-0.10</text>
<text x="231.54 240.38 255.14 262.51 277.27" y="706.2" font-size="22.3">-0.05</text>
<text x="319.73 334.67 342.13 357.07" y="706.2" font-size="22.3">0.00</text>
<text x="403.8 418.76 426.24 441.2" y="706.2" font-size="22.3">0.05</text>
<text x="487.86 502.8 510.26 525.2" y="706.2" font-size="22.3">0.10</text>
<text x="571.93 586.89 594.37 609.33" y="706.2" font-size="22.3">0.15</text>
<text x="54.68 69.47" y="38" font-size="22.3">20</text>
<text x="55.4 69.47" y="78.2" font-size="22.3">10</text>
<text x="70.33" y="118.4" font-size="22.3">0</text>
<text x="47.21 55.55 69.47" y="158.6" font-size="22.3">-10</text>
<text x="46.11 54.86 69.47" y="198.8" font-size="22.3">-20</text>
<text x="47.73 62.29 69.57" y="243.9" font-size="22.3">0.8</text>
<text x="47.73 62.08 69.25" y="293.9" font-size="22.3">0.4</text>
<text x="47.73 62.23 69.47" y="343.9" font-size="22.3">0.0</text>
<text x="38.41 47.21 61.91 69.25" y="393.9" font-size="22.3">-0.4</text>
<text x="38.41 47.3 62.15 69.57" y="443.9" font-size="22.3">-0.8</text>
<text x="47.73 62.29 69.57" y="468.2" font-size="22.3">0.8</text>
<text x="47.73 62.08 69.25" y="518.2" font-size="22.3">0.4</text>
<text x="47.73 62.23 69.47" y="568.2" font-size="22.3">0.0</text>
<text x="38.41 47.21 61.91 69.25" y="618.2" font-size="22.3">-0.4</text>
<text x="38.41 47.3 62.15 69.57" y="668.2" font-size="22.3">-0.8</text>
<text x="111.89 119.2 131.42" y="207.9" font-size="22.8" fill="#d1570f" stroke="#d1570f">(a)</text>
<text x="146.43 163.8 181.17" y="207.9" font-size="22.8">EEG</text>
<text x="110.79 118.25 130.72" y="431.4" font-size="22.8" fill="#d1570f" stroke="#d1570f">(b)</text>
<text x="144.13 164.91 181.54 200.94 207.87 216.18 230.05 236.98 250.85 264.72 278.59 285.52" y="431.4" font-size="22.8">MEG (0 deg.)</text>
<text x="110.49 117.78 128.72" y="652.5" font-size="22.8" fill="#d1570f" stroke="#d1570f">(c)</text>
<text x="143.33 164.19 180.89 200.36 207.32 215.66 229.58 243.51 257.43 264.39 278.31 292.24 306.16 313.12" y="652.5" font-size="22.8">MEG (180 deg.)</text>
<text x="354.23 368.1" y="192" font-size="21.2">25</text>
<text x="352.69 371.57" y="214.5" font-size="21.2">ms</text>
<text x="317.89 330.1 342.32 354.54 360.65 378.95 389.94 396.04 403.36 415.58 427.8 433.9 449.77 460.75" y="480.6" font-size="21.2">100 ms (10 Hz)</text>
<text x="325.2" y="744.6" font-size="23" font-style="italic">t</text>
<text x="338.67 347.11 359.77" y="744.6" font-size="23">(s)</text>
<g transform="translate(22 171.7) rotate(-90)">
<text x="-1.08 15.5 21.03 34.86 48.68 62.51 68.04 74.94" y="0" font-size="23.8">Signal (</text>
<text x="83.22" y="0" font-size="21.42" font-family="'DejaVu Serif', 'Liberation Serif', serif">μ</text>
<text x="97.77 114.35" y="0" font-size="23.8">V)</text>
</g>
<g transform="translate(22 395.2) rotate(-90)">
<text x="-1.08 15.61 21.17 35.08 49 62.91 68.47 75.42 83.75 97.67 112.95" y="0" font-size="23.8">Signal (pT)</text>
</g>
<g transform="translate(22 617.3) rotate(-90)">
<text x="-1.08 15.61 21.17 35.08 49 62.91 68.47 75.42 83.75 97.67 112.95" y="0" font-size="23.8">Signal (pT)</text>
</g>
</g>
</svg>
</body>
</html>
